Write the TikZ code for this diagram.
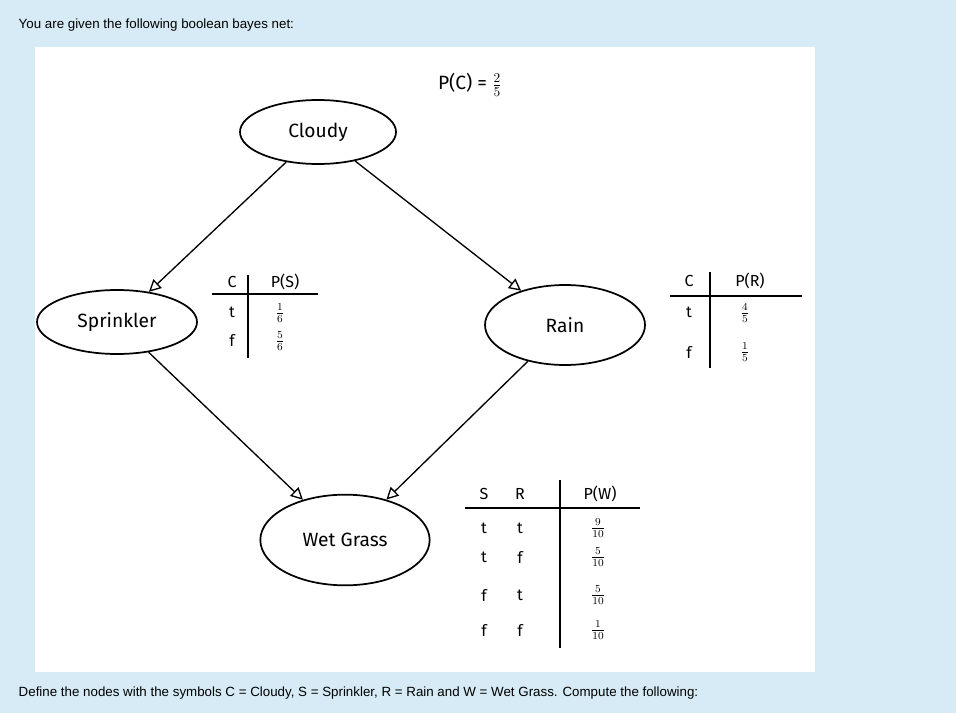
\documentclass[tikz,border=0pt]{standalone}
\usepackage{fontspec}
\setmainfont{Liberation Sans}
\newfontfamily\hand{Fira Sans}
\usetikzlibrary{arrows.meta,shapes.geometric}
\begin{document}
\begin{tikzpicture}[x=0.75pt,y=-0.75pt,
  nd/.style={draw,ellipse,line width=1.3pt,font=\hand\Large,inner sep=0pt},
  arr/.style={line width=1pt,-{Triangle[open,length=9pt,width=9pt]}},
  tl/.style={line width=0.9pt},
  t/.style={font=\hand\large,inner sep=1pt}]
\fill[fill={rgb,255:red,214;green,235;blue,245}] (0,0) rectangle (956,713);
\useasboundingbox (0,0) rectangle (956,713);
\fill[white] (35,47) rectangle (815,672);
\node[anchor=west,font=\normalsize] at (14,25) {You are given the following boolean bayes net:};
\node[anchor=west,font=\normalsize] at (14,693) {Define the nodes with the symbols C = Cloudy, S = Sprinkler, R = Rain and W = Wet Grass. Compute the following:};
\node[nd,minimum width=117pt,minimum height=48pt] (c) at (318,132) {Cloudy};
\node[nd,minimum width=120pt,minimum height=48pt] (s) at (117,322) {Sprinkler};
\node[nd,minimum width=120pt,minimum height=60pt] (r) at (565,325) {Rain};
\node[nd,minimum width=127pt,minimum height=68pt] (w) at (345,540) {Wet Grass};
\draw[arr] (c) -- (s);
\draw[arr] (c) -- (r);
\draw[arr] (s) -- (w);
\draw[arr] (r) -- (w);
\node[t,font=\hand\Large] (pc) at (470,85) {P(C) = $\frac{2}{5}$};
% S table
\node[t] (sc) at (232,282) {C};
\node[t] (sp) at (285,282) {P(S)};
\node[t] (st) at (232,312) {t};
\node[t] (sf) at (232,340) {f};
\node[t] (s1) at (280,313) {$\frac{1}{6}$};
\node[t] (s2) at (280,341) {$\frac{5}{6}$};
\draw[tl] (212,294) -- (318,294);
\draw[tl] (248,275) -- (248,358);
% R table
\node[t] (rc) at (689,281) {C};
\node[t] (rp) at (750,281) {P(R)};
\node[t] (rt) at (689,312) {t};
\node[t] (rf) at (689,352) {f};
\node[t] (r1) at (745,313) {$\frac{4}{5}$};
\node[t] (r2) at (745,352) {$\frac{1}{5}$};
\draw[tl] (670,296) -- (802,296);
\draw[tl] (710,272) -- (710,368);
% W table
\node[t] (ws) at (484,494) {S};
\node[t] (wr) at (520,494) {R};
\node[t] (wp) at (600,494) {P(W)};
\foreach \y/\a/\b/\n [count=\i] in {528/t/t/9,557/t/f/5,595/f/t/5,630/f/f/1}{
  \node[t] (wa\i) at (484,\y) {\a};
  \node[t] (wb\i) at (520,\y) {\b};
  \node[t] (wv\i) at (598,\y) {$\frac{\n}{10}$};
}
\draw[tl] (465,508) -- (640,508);
\draw[tl] (560,480) -- (560,648);
\end{tikzpicture}
\end{document}
